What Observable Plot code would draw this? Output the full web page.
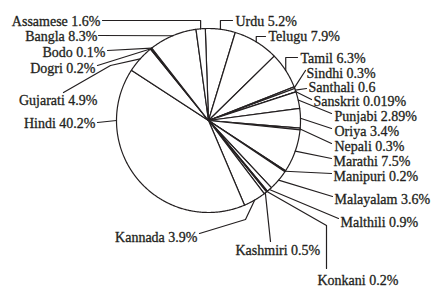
<!DOCTYPE html>
<html><head><meta charset="utf-8">
<script src="https://cdn.jsdelivr.net/npm/d3@7"></script>
<script src="https://cdn.jsdelivr.net/npm/@observablehq/plot@0.6"></script>
<style>html,body{margin:0;padding:0;background:#fff}</style>
</head><body><div id="chart"></div>
<script>
// ---- data (clockwise from 12 o'clock) ----
const languages = ["Urdu","Telugu","Tamil","Sindhi","Santhali","Sanskrit","Punjabi","Oriya","Nepali","Marathi","Manipuri","Malayalam","Malthili","Konkani","Kashmiri","Kannada","Hindi","Gujarati","Dogri","Bodo","Bangla","Assamese"];
const shares = [5.2,7.9,6.3,0.3,0.6,0.019,2.89,3.4,0.3,7.5,0.2,3.6,0.9,0.2,0.5,3.9,40.2,4.9,0.2,0.1,8.3,1.6];
const labelTexts = ["Urdu 5.2%","Telugu 7.9%","Tamil 6.3%","Sindhi 0.3%","Santhali 0.6","Sanskrit 0.019%","Punjabi 2.89%","Oriya 3.4%","Nepali 0.3%","Marathi 7.5%","Manipuri 0.2%","Malayalam 3.6%","Malthili 0.9%","Konkani 0.2%","Kashmiri 0.5%","Kannada 3.9%","Hindi 40.2%","Gujarati 4.9%","Dogri 0.2%","Bodo 0.1%","Bangla 8.3%","Assamese 1.6%"];

// ---- layout (pixels) ----
const cx = 208, cy = 120, R = 92, startDeg = -2;
const labelLayout = [
  {tx:235, ty:21, anchor:"start", sx:232, sy:20, elbow:"v"},
  {tx:268, ty:36, anchor:"start", sx:265, sy:36, elbow:"v"},
  {tx:300, ty:58, anchor:"start", sx:297, sy:57, elbow:"v"},
  {tx:306, ty:73, anchor:"start", sx:305, sy:70},
  {tx:308, ty:87.5, anchor:"start", sx:306, sy:88},
  {tx:313, ty:101.5, anchor:"start", sx:311, sy:99},
  {tx:334, ty:116, anchor:"start", sx:331, sy:113},
  {tx:334, ty:131, anchor:"start", sx:331, sy:128},
  {tx:334, ty:146, anchor:"start", sx:331, sy:143},
  {tx:333, ty:161, anchor:"start", sx:331, sy:158},
  {tx:333, ty:176, anchor:"start", sx:331, sy:173},
  {tx:334, ty:199, anchor:"start", sx:332, sy:196},
  {tx:340, ty:222, anchor:"start", sx:338, sy:218},
  {tx:317, ty:280, anchor:"start", sx:326, sy:268, elbow:[326,225]},
  {tx:235, ty:250, anchor:"start", sx:270, sy:241},
  {tx:197, ty:237, anchor:"end", sx:199, sy:233, elbow:[245,219]},
  {tx:95, ty:123, anchor:"end", sx:97, sy:122, pin:270},
  {tx:97, ty:100, anchor:"end", sx:63, sy:92, elbow:[110,65]},
  {tx:95, ty:68, anchor:"end", sx:97, sy:65},
  {tx:105, ty:52, anchor:"end", sx:107, sy:50},
  {tx:97, ty:36, anchor:"end", sx:98, sy:35},
  {tx:100, ty:21, anchor:"end", sx:102, sy:20, elbow:"v"}
];

const rad = Math.PI / 180;
const pie = d3.pie().sort(null).startAngle(startDeg * rad).endAngle(startDeg * rad + 2 * Math.PI)(shares);
const pt = (a) => [cx + R * Math.sin(a), cy - R * Math.cos(a)];

const slicePts = [];
pie.forEach((s, i) => {
  slicePts.push({k: i, x: cx, y: cy});
  const n = Math.max(2, Math.ceil((s.endAngle - s.startAngle) / (0.5 * rad)));
  for (let j = 0; j <= n; j++) {
    const a = s.startAngle + (s.endAngle - s.startAngle) * j / n;
    const [x, y] = pt(a);
    slicePts.push({k: i, x, y});
  }
  slicePts.push({k: i, x: cx, y: cy});
});

const leaderPts = [];
const textRows = [];
pie.forEach((s, i) => {
  const L = labelLayout[i];
  const a = L.pin != null ? L.pin * rad : (s.startAngle + s.endAngle) / 2;
  const [px, py] = pt(a);
  leaderPts.push({k: i, x: L.sx, y: L.sy});
  if (L.elbow === "v") leaderPts.push({k: i, x: px, y: L.sy});
  else if (Array.isArray(L.elbow)) leaderPts.push({k: i, x: L.elbow[0], y: L.elbow[1]});
  leaderPts.push({k: i, x: px, y: py});
  textRows.push({x: L.tx, y: L.ty, anchor: L.anchor, text: labelTexts[i]});
});

const ink = "#231f20";
const font = "Liberation Serif";
const textOpts = {x: "x", y: "y", text: "text", fill: ink, stroke: ink, strokeWidth: 0.3, fontSize: 14, fontFamily: font};
const chart = Plot.plot({
  width: 445, height: 292, margin: 0,
  x: {domain: [0, 445], range: [0, 445], axis: null},
  y: {domain: [0, 292], range: [0, 292], axis: null},
  style: {background: "#fff"},
  marks: [
    Plot.line(slicePts, {x: "x", y: "y", z: "k", stroke: ink, strokeWidth: 1.2, fill: "white"}),
    Plot.line(leaderPts, {x: "x", y: "y", z: "k", stroke: ink, strokeWidth: 1.2}),
    Plot.text(textRows.filter(d => d.anchor === "start"), {...textOpts, textAnchor: "start"}),
    Plot.text(textRows.filter(d => d.anchor === "end"), {...textOpts, textAnchor: "end"})
  ]
});
document.getElementById("chart").appendChild(chart);
</script>
</body></html>
